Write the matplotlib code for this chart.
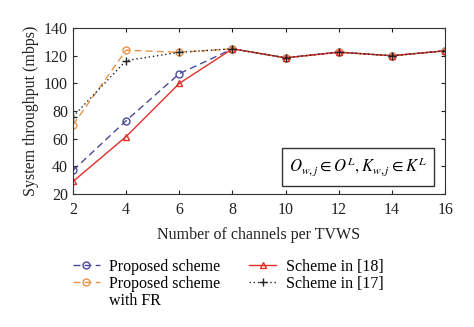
import matplotlib
matplotlib.use("Agg")
import matplotlib.pyplot as plt
from matplotlib.lines import Line2D

channels = [2, 4, 6, 8, 10, 12, 14, 16]
proposed = [37, 73, 107, 125, 118.5, 122.6, 120, 123.6]
proposed_fr = [70, 124, 122.5, 125, 118.5, 122.6, 120, 123.6]
scheme_18 = [29, 61.5, 100, 125, 118.5, 122.6, 120, 123.6]
scheme_17 = [76, 116.5, 122.5, 125, 118.5, 122.6, 120, 123.6]

BLUE = "#4a4a9a"
ORANGE = "#e99449"
RED = "#e0302a"
INK = "#222222"

plt.rcParams["font.family"] = ["Liberation Serif", "DejaVu Serif"]
plt.rcParams["mathtext.fontset"] = "stix"

fig = plt.figure(figsize=(4.74, 3.27), dpi=100)
ax = fig.add_axes([0.154, 0.407, 0.785, 0.507])

l_prop, = ax.plot(channels, proposed, color=BLUE, linestyle=(0, (5, 3)), linewidth=1,
                  marker="o", markersize=5, markerfacecolor="none")
l_fr, = ax.plot(channels, proposed_fr, color=ORANGE, linestyle=(0, (5, 3)), linewidth=1,
                marker="o", markersize=5, markerfacecolor="none")
l_18, = ax.plot(channels, scheme_18, color=RED, linestyle="-", linewidth=1,
                marker="^", markersize=5, markerfacecolor="none")
l_17, = ax.plot(channels, scheme_17, color=INK, linestyle=(0, (1, 2)), linewidth=1,
                marker="+", markersize=6)

ax.set_xlim(2, 16)
ax.set_ylim(20, 140)
ax.set_xticks(channels)
ax.set_yticks(range(20, 141, 20))
ax.tick_params(direction="in", top=True, right=True, labelsize=11.5, colors=INK, length=3)
ax.tick_params(axis="x", pad=6)
for spine in ax.spines.values():
    spine.set_color("#333333")
ax.set_xlabel("Number of channels per TVWS", fontsize=11.5, color=INK, labelpad=6)
ax.set_ylabel("System throughput (mbps)", fontsize=11.5, color=INK)

ax.text(0.766, 0.163, r"$O_{w,j} \in O^L, K_{w,j} \in K^L$", transform=ax.transAxes,
        ha="center", va="center", fontsize=12,
        bbox=dict(boxstyle="square,pad=0.45", facecolor="white", edgecolor="#333333", linewidth=1))

# second line of the FR label as its own row so the handle sits on the first line
spacer = Line2D([], [], linestyle="none")
handles = [l_prop, l_fr, spacer, l_18, l_17]
labels = ["Proposed scheme", "Proposed scheme", "with FR", "Scheme in [18]", "Scheme in [17]"]
fig.legend(handles, labels, loc="upper left", bbox_to_anchor=(0.123, 0.253), ncol=2,
           frameon=False, fontsize=11.5, handlelength=1.7, columnspacing=1.8,
           labelspacing=0.08, handletextpad=0.6)

fig.savefig("out.png", dpi=100)
